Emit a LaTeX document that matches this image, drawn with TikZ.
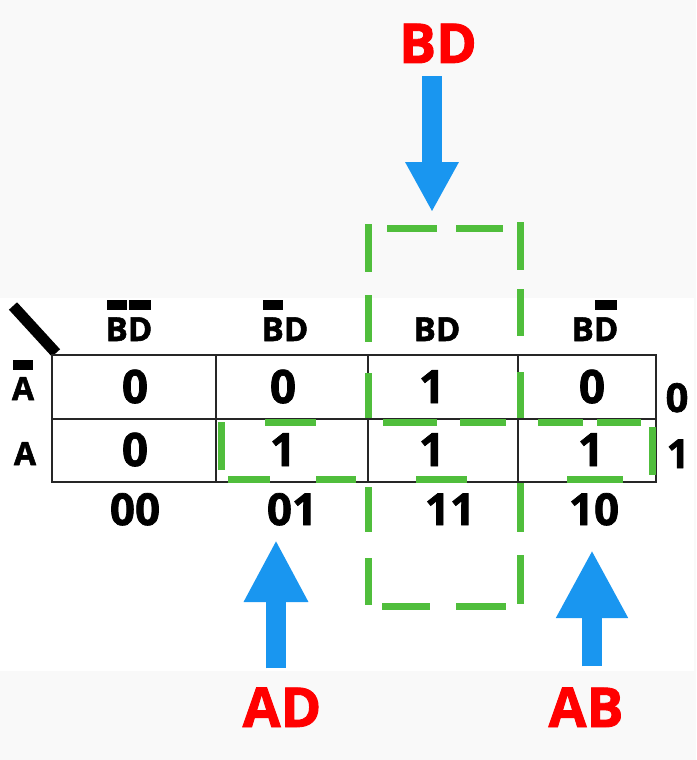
\documentclass[tikz,border=0pt]{standalone}
\usepackage{fontspec}
\setmainfont{Open Sans}[BoldFeatures={FakeBold=1.6}]
\usetikzlibrary{arrows.meta}
\definecolor{kgreen}{RGB}{80,190,60}
\definecolor{kblue}{RGB}{25,150,240}
\definecolor{kred}{RGB}{255,0,0}
\definecolor{bggray}{RGB}{249,249,249}
% letter with a thick bar over it
\newcommand{\kbar}[1]{\setbox0\hbox{#1}\rlap{\hspace{1pt}\raisebox{1.3\ht0}{\rule{\dimexpr\wd0-2pt\relax}{0.45\ht0}}}\box0}
\begin{document}
\begin{tikzpicture}[x=1pt,y=-1pt,
	lbl/.style={inner sep=0pt,anchor=base,font=\bfseries\fontsize{#1}{#1}\selectfont},
	grid/.style={line width=2pt,black!85},
	grp/.style={kgreen,line width=7pt},
	barrow/.style={kblue,line width=20pt}]
				\useasboundingbox (0,0) rectangle (696,760);
				\fill[bggray] (0,0) rectangle (696,760);
				\fill[white] (0,298) rectangle (694,671);
				% map grid
				\draw[line width=11pt] (13,306) -- (56,353);
				\draw[grid] (52,355) rectangle (656,482);
				\draw[grid] (52,419) -- (656,419);
				\foreach \x in {216,368,518} \draw[grid] (\x,355) -- (\x,482);
				% column and row labels
				\node[lbl=33] (h00) at (129,341) {\kbar{B}\kbar{D}};
				\node[lbl=33] (h01) at (285,341) {\kbar{B}D};
				\node[lbl=33] (h11) at (437,341) {BD};
				\node[lbl=33] (h10) at (595,341) {B\kbar{D}};
				\node[lbl=32] (ra0) at (23,400) {\kbar{A}};
				\node[lbl=32] (ra1) at (25,465) {A};
				\node[lbl=40] (v0) at (677,412) {0};
				\node[lbl=40] (v1) at (678,468) {1};
				\foreach \x/\t in {135/00,292/01,450/11,594/10} \node[lbl=44] (k\t) at (\x,525) {\t};
				% cells
				\foreach \x/\v [count=\i] in {135/0,283/0,432/1,592/0} \node[lbl=46] (r0c\i) at (\x,403) {\v};
				\foreach \x/\v [count=\i] in {135/0,283/1,432/1,591/1} \node[lbl=46] (r1c\i) at (\x,466) {\v};
				% groups
				\draw[grp,dash pattern=on 48pt off 23pt on 47pt off 31pt on 45pt off 69pt on 45pt off 26pt on 47pt off 10pt] (368,224) -- (368,605);
				\draw[grp,dash pattern=on 48pt off 19pt on 47pt off 36pt on 46pt off 65pt on 49pt off 23pt on 49pt off 10pt] (520,222) -- (520,604);
				\draw[grp,dash pattern=on 50pt off 19pt on 47pt off 30pt] (387,228) -- (520,228);
				\draw[grp,dash pattern=on 48pt off 26pt on 50pt off 30pt] (382,606) -- (520,606);
				\draw[grp,dash pattern=on 51pt off 67pt on 54pt off 23pt on 46pt off 32pt on 45pt off 14pt on 44pt off 20pt] (265,422) -- (652,422);
				\draw[grp,dash pattern=on 42pt off 46pt on 40pt off 60pt on 51pt off 100pt on 56pt off 40pt] (228,479) -- (623,479);
				\draw[grp] (221,422) -- (221,470);
				\draw[grp] (652,427) -- (652,475);
				% terms
				\node[lbl=55,text=kred] (tBD) at (438,63) {BD};
				\node[lbl=55,text=kred] (tAD) at (282,727) {AD};
				\node[lbl=55,text=kred] (tAB) at (586,727) {AB};
				\coordinate (bdtip) at (432,212);
				\coordinate (adtip) at (276,540);
				\coordinate (abtip) at (592,550);
				\draw[barrow,-{Triangle[width=50pt,length=50pt]},shorten <=13pt] (tBD.south -| bdtip) -- (bdtip);
				\draw[barrow,-{Triangle[width=60pt,length=62pt]},shorten <=19pt] (tAD.north -| adtip) -- (adtip);
				\draw[barrow,-{Triangle[width=67pt,length=68pt]},shorten <=21pt] (tAB.north -| abtip) -- (abtip);
				\end{tikzpicture}
\end{document}
